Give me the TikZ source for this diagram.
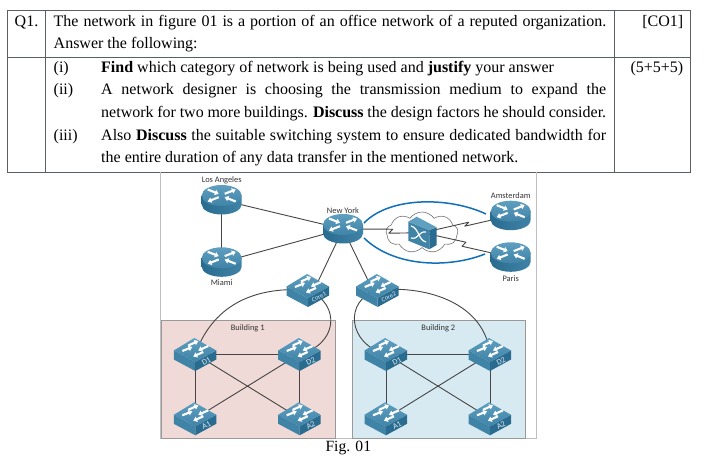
\documentclass[tikz,border=0pt]{standalone}
\usepackage{fontspec}
\setmainfont{Liberation Serif}
\newfontfamily\lblfont{Carlito}
\usetikzlibrary{arrows.meta,calc,shapes.symbols}

\definecolor{rulegray}{HTML}{5A5F63}
\definecolor{linkgray}{HTML}{454545}
\definecolor{wanblue}{HTML}{1170B8}
\definecolor{icontop}{HTML}{5F9FC0}
\definecolor{iconmid}{HTML}{3F83A7}
\definecolor{iconlow}{HTML}{2A6C90}
\definecolor{roseroom}{HTML}{EFDAD7}
\definecolor{iceroom}{HTML}{D8EAF1}

\begin{document}
\begin{tikzpicture}[x=1pt,y=-1pt]

  \tikzset{
    hub/.style={inner sep=0pt,minimum size=0pt,outer sep=0pt},
    txt/.style={anchor=base west,inner sep=0pt,font=\fontsize{16}{18}\selectfont},
    rule/.style={draw=rulegray,line width=0.8pt},
    link/.style={draw=linkgray,line width=0.9pt,line join=round},
    wan/.style={draw=wanblue,line width=1.5pt},
    place/.style={inner sep=0pt,text=black!80,font=\lblfont\fontsize{8.4}{9}\selectfont},
    room/.style={draw=black!40,line width=0.8pt,minimum width=173.4pt,minimum height=117.7pt,anchor=north west},
    wht/.style={draw=white,line width=2.1pt,-{Triangle[width=5.4pt,length=3.8pt]}},
    serial/.style={to path={-- ($(\tikztostart)!#1!(\tikztotarget)+(2,-2)$)
      -- ($(\tikztostart)!#1!(\tikztotarget)+(-2,2)$) -- (\tikztotarget)}},
    router/.pic={
      \path[left color=iconlow,right color=iconmid]
        (-20,-4.5) -- (-20,4.5) arc[start angle=180,end angle=360,x radius=20pt,y radius=10pt] -- (20,-4.5) -- cycle;
      \path[top color=icontop,bottom color=iconmid] (0,-4.5) circle[x radius=20pt,y radius=10.5pt];
      \draw[wht] (-14,-10.5) -- (-3,-6.2);
      \draw[wht] (14,1.5) -- (3,-2.8);
      \draw[wht] (3,-6.2) -- (14,-10.5);
      \draw[wht] (-3,-2.8) -- (-14,1.5);
    },
    switch/.pic={
      \path[fill=iconmid] (-21.5,-3.5) -- (-21.5,5.5) -- (0,17) -- (0,8) -- cycle;
      \path[fill=iconlow] (0,8) -- (0,17) -- (21,5.5) -- (21,-3.5) -- cycle;
      \path[top color=icontop,bottom color=iconmid] (-21.5,-3.5) -- (-1,-16) -- (21,-3.5) -- (0,8) -- cycle;
      \draw[wht] (-7,-8.5) -- (3,-13);
      \draw[wht] (13,-8) -- (3,-3.5);
      \draw[wht] (-13,-3) -- (-3,-7);
      \draw[wht] (8,-2) -- (-2,2.5);
      \node[hub,rotate=28,text=white!85!iconlow,font=\lblfont\fontsize{#1}{9}\selectfont] (-tag) at (11,7) {\tikzpictext};
    },
  }

  \useasboundingbox (0,0) rectangle (705,462);

  % question table
  \draw[rule] (7,10.5) rectangle (690.5,172);
  \draw[rule] (7,57) -- (690.5,57);
  \draw[rule] (45.5,10.5) -- (45.5,172);
  \draw[rule] (614.5,10.5) -- (614.5,172);

  \node[txt] (Qn) at (14.5,26.5) {Q1.};
  \node[txt] (Qa) at (53.5,26.5) {\makebox[552.5pt][s]{The network in figure 01 is a portion of an office network of a reputed organization.}};
  \node[txt] (Qb) at (53.5,49) {Answer the following:};
  \node[txt] (CO) at (642,26.5) {\makebox[41pt][r]{[CO1]}};
  \node[txt] (Mk) at (630,73) {\makebox[53pt][r]{(5+5+5)}};
  \node[txt] (Ni) at (53.5,73) {(i)};
  \node[txt] (Ti) at (101,73) {\textbf{Find} which category of network is being used and \textbf{justify} your answer};
  \node[txt] (Nii) at (53.5,95) {(ii)};
  \node[txt] (Tii) at (101,95) {\makebox[505pt][s]{A network designer is choosing the transmission medium to expand the}};
  \node[txt] (Tiib) at (101,117.5) {\makebox[505pt][s]{network for two more buildings. \textbf{Discuss} the design factors he should consider.}};
  \node[txt] (Niii) at (53.5,140.5) {(iii)};
  \node[txt] (Tiii) at (101,140.5) {\makebox[505pt][s]{Also \textbf{Discuss} the suitable switching system to ensure dedicated bandwidth for}};
  \node[txt] (Tiiib) at (101,163) {the entire duration of any data transfer in the mentioned network.};

  % figure
  \draw[draw=black!25,line width=0.6pt] (160.7,172) -- (160.7,438) -- (536,438) -- (536,172);
  \node[room,fill=roseroom] (BA) at (161.3,320) {};
  \node[room,fill=iceroom] (BB) at (352,320) {};
  \node[cloud,draw=black!55,fill=white,line width=0.6pt,cloud puffs=9,cloud puff arc=110,aspect=1.8,
    minimum width=72pt,minimum height=41pt,inner sep=0pt] (NET) at (422,232.5) {};

  \node[hub] (LA) at (221.7,200) {};
  \node[hub] (MI) at (221.7,262.3) {};
  \node[hub] (NY) at (343,229) {};
  \node[hub] (AM) at (510.7,215.7) {};
  \node[hub] (PA) at (510.7,257.3) {};
  \node[hub] (SX) at (422.7,232.7) {};
  \node[hub] (CA) at (308,290) {};
  \node[hub] (CB) at (377.7,290) {};
  \node[hub] (AD1) at (195.3,354) {};
  \node[hub] (AD2) at (299.7,354) {};
  \node[hub] (AA1) at (195.3,418.3) {};
  \node[hub] (AA2) at (299.7,418.3) {};
  \node[hub] (BD1) at (386,354) {};
  \node[hub] (BD2) at (490,354) {};
  \node[hub] (BA1) at (386,418.3) {};
  \node[hub] (BA2) at (490,418.3) {};
  \coordinate (NYu) at (364,223);
  \coordinate (NYd) at (364,238);
  \coordinate (AMe) at (486,214);
  \coordinate (PAe) at (485,254);

  \draw[link] (LA) -- (MI);
  \draw[link] (LA) -- (NY);
  \draw[link] (MI) -- (NY);
  \draw[link] (NY) -- ([xshift=6pt]CA.center);
  \draw[link] (NY) -- ([xshift=-5pt]CB.center);
  \draw[link] (NY) to[serial=0.6] (SX);
  \draw[link] (SX) to[serial=0.5] (AM);
  \draw[link] (SX) to[serial=0.47] (PA);
  \draw[wan] (NYu) .. controls (390,196) and (450,197) .. (AMe);
  \draw[wan] (NYd) .. controls (395,268) and (450,268) .. (PAe);

  \draw[link] (CA) .. controls (250,286) and (212,308) .. (AD1);
  \draw[link] (CA) .. controls (342,305) and (337,345) .. (AD2);
  \draw[link] (CB) .. controls (343,300) and (348,345) .. (BD1);
  \draw[link] (CB) .. controls (430,285) and (485,305) .. (BD2);

  \draw[link] (AD1) -- (AD2);
  \draw[link] (AD1) -- (AA1);
  \draw[link] (AD2) -- (AA2);
  \draw[link] (AD1) -- (AA2);
  \draw[link] (AD2) -- (AA1);
  \draw[link] (BD1) -- (BD2);
  \draw[link] (BD1) -- (BA1);
  \draw[link] (BD2) -- (BA2);
  \draw[link] (BD1) -- (BA2);
  \draw[link] (BD2) -- (BA1);

  \pic at (LA) {router};
  \pic at (MI) {router};
  \pic at (NY) {router};
  \pic at (AM) {router};
  \pic at (PA) {router};
  \pic (pCA) [pic text=Core1] at (CA) {switch=6.4};
  \pic (pCB) [pic text=Core2] at (CB) {switch=6.4};
  \pic (pAD1) [pic text=D1] at (AD1) {switch=8};
  \pic (pAD2) [pic text=D2] at (AD2) {switch=8};
  \pic (pAA1) [pic text=A1] at (AA1) {switch=8};
  \pic (pAA2) [pic text=A2] at (AA2) {switch=8};
  \pic (pBD1) [pic text=D1] at (BD1) {switch=8};
  \pic (pBD2) [pic text=D2] at (BD2) {switch=8};
  \pic (pBA1) [pic text=A1] at (BA1) {switch=8};
  \pic (pBA2) [pic text=A2] at (BA2) {switch=8};

  % atm box in the cloud
  \path[fill=iconmid] (408.3,221.7) -- (408.3,240.7) -- (429.3,249.3) -- (429.3,230) -- cycle;
  \path[fill=iconlow] (429.3,230) -- (429.3,249.3) -- (436.7,245) -- (436.7,227.3) -- cycle;
  \path[fill=icontop] (408.3,221.7) -- (416.7,216.7) -- (436.7,227.3) -- (429.3,230) -- cycle;
  \draw[white,line width=1.2pt] (411,226) .. controls (419,228) and (418,240) .. (426,242);
  \draw[white,line width=1.2pt] (411,238) .. controls (419,240) and (418,231) .. (426,232);

  \node[place] (tLA) at (221.7,180) {Los Angeles};
  \node[place] (tMI) at (221.7,283) {Miami};
  \node[place] (tNY) at (343,211) {New York};
  \node[place] (tAM) at (510.7,195.7) {Amsterdam};
  \node[place] (tPA) at (510.7,278.3) {Paris};
  \node[place] (tBA) at (247.7,328.3) {Building 1};
  \node[place] (tBB) at (438.3,328.3) {Building 2};
  \node[hub,font=\fontsize{15.6}{18}\selectfont] (Fig) at (348.3,447.7) {Fig. 01};

\end{tikzpicture}
\end{document}
